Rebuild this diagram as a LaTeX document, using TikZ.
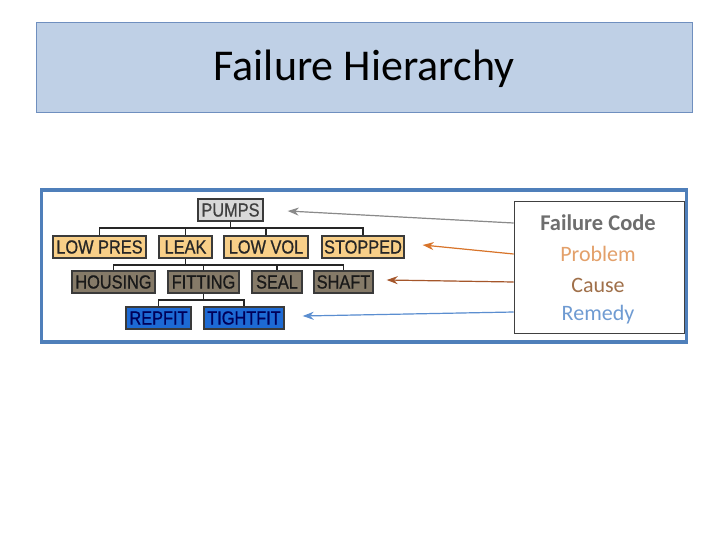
\documentclass[tikz,border=0pt]{standalone}
\usepackage{fontspec}
\setmainfont{Carlito}
\newfontfamily\boxfont[FakeStretch=0.86,FakeBold=0.8]{Liberation Sans}
\usetikzlibrary{arrows.meta}
\definecolor{titlefill}{HTML}{BFD0E6}
\definecolor{titleedge}{HTML}{6F8FBF}
\definecolor{frameblue}{HTML}{4F7FBA}
\definecolor{pumpfill}{HTML}{D9D9D9}
\definecolor{probfill}{HTML}{F8CF88}
\definecolor{causefill}{HTML}{857A68}
\definecolor{remfill}{HTML}{1D6AD4}
\definecolor{edgedark}{HTML}{3A3A3A}
\definecolor{txtgray}{HTML}{6E6E6E}
\definecolor{txtprob}{HTML}{E3A06A}
\definecolor{txtcause}{HTML}{A0704A}
\definecolor{txtrem}{HTML}{6F9BD2}
\definecolor{arrgray}{HTML}{8A8A8A}
\definecolor{arrorange}{HTML}{D8742A}
\definecolor{arrbrown}{HTML}{A5562A}
\definecolor{arrblue}{HTML}{5B8ED0}
\begin{document}
\begin{tikzpicture}[x=1pt,y=-1pt,
  tnode/.style={draw=edgedark, line width=1.4pt, inner sep=0pt, minimum height=22pt,
     font=\boxfont\fontsize{19}{19}\selectfont},
  pumpbox/.style={tnode, fill=pumpfill, text=black!75},
  probbox/.style={tnode, fill=probfill, text=black!85},
  causebox/.style={tnode, fill=causefill, text=black!90},
  rembox/.style={tnode, fill=remfill, text=blue!35!black},
  tree/.style={draw=black!85, line width=1.3pt},
  legtext/.style={font=\fontsize{22}{24}\selectfont},
  pointer/.style={line width=1.2pt, -{Stealth[length=11pt,width=8pt]}}
]
\useasboundingbox (0,0) rectangle (728,546);
\fill[white] (0,0) rectangle (728,546);
% title
\node[draw=titleedge, fill=titlefill, line width=0.8pt, minimum width=656pt, minimum height=90pt,
      inner sep=0pt, font=\fontsize{44}{48}\selectfont] (title) at (364,67) {};
\node[font=\fontsize{44}{48}\selectfont, inner sep=0pt] (titletext) at (364,69) {Failure Hierarchy};
% frame
\node[draw=frameblue, line width=3.5pt, minimum width=645pt, minimum height=152pt, inner sep=0pt] (frame) at (364,266) {};
% tree nodes
\node[pumpbox, minimum width=65pt] (pumps) at (230.5,210) {PUMPS};
\node[probbox, minimum width=93pt] (lowpres) at (99.5,247) {LOW PRES};
\node[probbox, minimum width=53pt] (leak) at (185.5,247) {LEAK};
\node[probbox, minimum width=84pt] (lowvol) at (266,247) {LOW VOL};
\node[probbox, minimum width=82pt] (stopped) at (363,247) {STOPPED};
\node[causebox, minimum width=83pt] (housing) at (113.5,282) {HOUSING};
\node[causebox, minimum width=71pt] (fitting) at (203.5,282) {FITTING};
\node[causebox, minimum width=50pt] (seal) at (277,282) {SEAL};
\node[causebox, minimum width=59pt] (shaft) at (343.5,282) {SHAFT};
\node[rembox, minimum width=65pt] (repfit) at (158.5,318) {REPFIT};
\node[rembox, minimum width=80pt] (tightfit) at (244,318) {TIGHTFIT};
% buses
\coordinate (bus1) at (0,228);
\coordinate (bus2) at (0,265);
\coordinate (bus3) at (0,300);
\draw[tree] (pumps.south) -- (pumps.south |- bus1);
\draw[tree] (lowpres.north) |- (bus1 -| stopped.north) -- (stopped.north);
\draw[tree] (leak.north) -- (leak.north |- bus1);
\draw[tree] (lowvol.north) -- (lowvol.north |- bus1);
\draw[tree] (leak.south) -- (leak.south |- bus2);
\draw[tree] (housing.north) |- (bus2 -| shaft.north) -- (shaft.north);
\draw[tree] (fitting.north) -- (fitting.north |- bus2);
\draw[tree] (seal.north) -- (seal.north |- bus2);
\draw[tree] (fitting.south) -- (fitting.south |- bus3);
\draw[tree] (repfit.north) |- (bus3 -| tightfit.north) -- (tightfit.north);
% legend
\node[draw=black!75, line width=0.8pt, fill=white, minimum width=170pt, minimum height=132pt, inner sep=0pt] (legend) at (599,267) {};
\node[legtext, text=txtgray, font=\bfseries\fontsize{22.5}{24}\selectfont] (fc) at (598,223) {Failure Code};
\node[legtext, text=txtprob] (prob) at (598,254) {Problem};
\node[legtext, text=txtcause] (cause) at (598,285) {Cause};
\node[legtext, text=txtrem] (rem) at (598,315) {Remedy};
% pointers
\draw[pointer, draw=arrgray, fill=arrgray] (legend.west |- fc) -- ([xshift=24pt,yshift=-1pt]pumps.east);
\draw[pointer, draw=arrorange, fill=arrorange] (legend.west |- prob) -- ([xshift=18pt,yshift=2pt]stopped.east);
\draw[pointer, draw=arrbrown, fill=arrbrown] ([yshift=3pt]legend.west |- cause) -- ([xshift=13pt,yshift=2pt]shaft.east);
\draw[pointer, draw=arrblue, fill=arrblue] ([yshift=3pt]legend.west |- rem) -- ([xshift=18pt,yshift=2pt]tightfit.east);
\end{tikzpicture}
\end{document}
